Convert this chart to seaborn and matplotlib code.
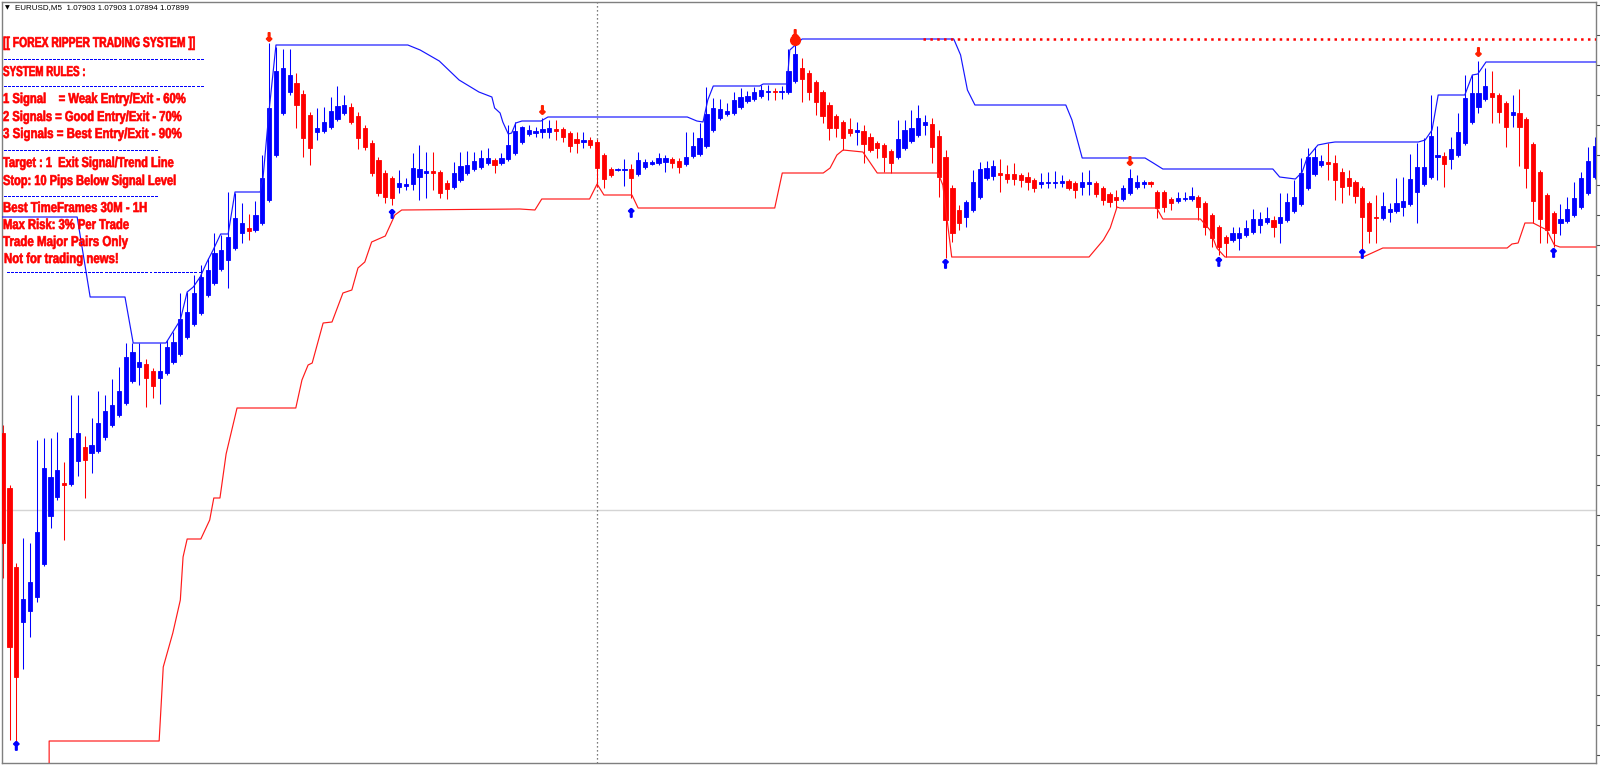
import numpy as np
import pandas as pd
import seaborn as sns
import matplotlib
matplotlib.use("Agg")
import matplotlib.pyplot as plt
import matplotlib.patheffects as pe
from matplotlib.transforms import Affine2D

# EURUSD M5 candles, prices kept in points (0.00001) above 1.07000
BASE = 1.07
POINT = 0.00001

open_pts = [602, 547, 468, 413, 424, 438, 471, 519, 538, 552,
            551, 574, 588, 582, 584, 598, 610, 620, 632, 654,
            668, 671, 664, 657, 662, 673, 681, 698, 711, 722,
            740, 752, 766, 775, 787, 802, 807, 805, 812, 835,
            880, 922, 943, 952, 941, 920, 903, 904, 908, 916,
            922, 928, 919, 907, 892, 875, 862, 857, 848, 849,
            851, 858, 862, 864, 863, 852, 848, 855, 862, 866,
            868, 872, 875, 872, 876, 882, 893, 901, 902, 903,
            903, 906, 906, 902, 896, 893, 895, 893, 880, 866,
            865, 865, 866, 861, 868, 871, 872, 873, 876, 874,
            871, 879, 881, 889, 905, 917, 921, 922, 928, 934,
            936, 939, 943, 944, 943, 943, 954, 967, 962, 953,
            943, 930, 919, 913, 906, 903, 904, 898, 892, 890,
            884, 878, 887, 894, 900, 910, 911, 899, 878, 847,
            825, 818, 825, 838, 857, 859, 862, 861, 861, 860,
            858, 855, 851, 852, 852, 852, 854, 852, 848, 851,
            852, 847, 841, 838, 836, 842, 848, 851, 853, 843,
            843, 836, 834, 836, 836, 838, 832, 820, 808, 798,
            795, 797, 800, 803, 810, 813, 815, 812, 815, 824,
            831, 847, 861, 870, 873, 872, 863, 857, 853, 847,
            832, 818, 817, 823, 824, 828, 831, 843, 851, 858,
            878, 879, 876, 880, 892, 913, 928, 936, 942, 940,
            932, 920, 922, 916, 891, 863, 840, 822, 812, 814,
            820, 828, 842, 858]
high_pts = [610, 550, 472, 497, 492, 595, 597, 597, 603, 573,
            640, 640, 599, 617, 644, 640, 656, 668, 692, 692,
            692, 676, 667, 692, 695, 703, 742, 743, 760, 770,
            777, 802, 800, 843, 842, 832, 821, 834, 880, 992,
            988, 986, 986, 962, 945, 923, 927, 928, 938, 949,
            940, 932, 923, 910, 895, 878, 865, 859, 865, 857,
            882, 890, 883, 883, 865, 855, 873, 883, 884, 883,
            885, 887, 877, 882, 910, 913, 909, 910, 908, 917,
            915, 915, 908, 904, 903, 903, 898, 896, 882, 868,
            867, 876, 871, 883, 876, 875, 882, 880, 878, 877,
            903, 903, 912, 948, 937, 936, 932, 943, 947, 944,
            948, 950, 950, 947, 949, 986, 992, 977, 965, 955,
            945, 933, 921, 915, 917, 913, 910, 902, 894, 892,
            886, 915, 915, 925, 930, 920, 917, 905, 885, 850,
            830, 835, 865, 873, 874, 875, 876, 870, 872, 862,
            863, 857, 862, 863, 864, 860, 856, 854, 863, 865,
            854, 849, 843, 845, 850, 866, 860, 855, 854, 845,
            845, 838, 843, 843, 848, 840, 834, 822, 810, 800,
            808, 808, 815, 826, 823, 828, 819, 842, 842, 855,
            877, 887, 888, 880, 892, 880, 867, 865, 855, 849,
            834, 840, 843, 832, 857, 858, 881, 892, 897, 940,
            909, 883, 898, 922, 960, 960, 974, 967, 964, 942,
            934, 940, 946, 918, 893, 865, 842, 824, 831, 838,
            853, 863, 888, 898]
low_pts = [457, 295, 293, 366, 398, 433, 469, 507, 535, 495,
           549, 559, 537, 562, 582, 595, 608, 618, 630, 652,
           650, 628, 637, 631, 660, 671, 679, 696, 709, 720,
           738, 750, 764, 747, 785, 792, 795, 803, 810, 833,
           878, 920, 940, 907, 878, 870, 895, 902, 906, 914,
           920, 911, 886, 885, 859, 839, 832, 830, 842, 845,
           845, 835, 837, 845, 837, 836, 846, 853, 860, 864,
           866, 870, 862, 870, 874, 880, 891, 899, 898, 897,
           897, 895, 893, 883, 882, 887, 887, 848, 847, 858,
           864, 849, 837, 859, 866, 870, 870, 863, 867, 862,
           869, 877, 879, 887, 903, 915, 919, 920, 926, 932,
           934, 937, 935, 935, 936, 941, 952, 933, 935, 920,
           912, 895, 898, 885, 899, 890, 872, 883, 877, 863,
           862, 876, 885, 892, 898, 900, 872, 838, 777, 793,
           805, 808, 823, 836, 855, 855, 843, 852, 850, 848,
           845, 843, 847, 847, 847, 848, 845, 837, 840, 840,
           838, 830, 828, 827, 834, 840, 846, 847, 848, 817,
           823, 825, 832, 834, 834, 815, 800, 788, 780, 778,
           793, 785, 798, 801, 802, 811, 798, 792, 813, 822,
           829, 845, 859, 868, 855, 835, 832, 840, 832, 782,
           792, 792, 815, 813, 822, 819, 829, 812, 849, 856,
           855, 848, 866, 878, 890, 911, 922, 934, 912, 912,
           888, 908, 869, 847, 812, 792, 792, 788, 800, 812,
           818, 826, 840, 856]
close_pts = [492, 388, 358, 436, 453, 503, 567, 558, 565, 550,
             597, 602, 575, 590, 612, 624, 630, 644, 678, 683,
             673, 657, 649, 664, 688, 693, 716, 723, 742, 758,
             765, 782, 785, 798, 817, 812, 804, 820, 857, 927,
             964, 967, 960, 930, 897, 887, 907, 913, 924, 929,
             930, 913, 897, 888, 862, 842, 838, 837, 852, 851,
             867, 866, 864, 862, 842, 846, 862, 869, 870, 874,
             877, 877, 870, 877, 890, 904, 908, 905, 904, 906,
             907, 904, 898, 889, 892, 895, 890, 867, 856, 860,
             866, 866, 857, 875, 873, 873, 877, 877, 872, 868,
             878, 889, 897, 921, 927, 926, 924, 935, 938, 939,
             943, 945, 944, 943, 944, 964, 981, 956, 943, 933,
             919, 907, 907, 897, 902, 905, 891, 885, 887, 878,
             872, 896, 905, 907, 917, 913, 888, 858, 815, 802,
             812, 833, 853, 866, 867, 869, 860, 856, 856, 855,
             853, 847, 853, 853, 853, 854, 847, 845, 853, 853,
             841, 835, 833, 835, 847, 857, 853, 853, 851, 827,
             828, 832, 837, 837, 839, 828, 808, 797, 788, 792,
             802, 802, 807, 816, 816, 817, 808, 818, 833, 838,
             862, 878, 878, 874, 871, 855, 848, 849, 839, 818,
             804, 817, 829, 826, 832, 834, 856, 868, 868, 899,
             880, 871, 886, 903, 937, 942, 942, 949, 938, 923,
             908, 923, 908, 867, 834, 816, 805, 802, 816, 826,
             837, 857, 874, 889]

# upper (blue) and lower (red) trailing lines: bar index -> points
blue_idx = [-0.4, 10.9, 12.8, 17.9, 19.1, 23.9, 24.9, 26.0, 27.0, 27.9,
            28.9, 29.9, 30.8, 31.9, 33.0, 34.0, 37.7, 38.1, 39.0, 40.0,
            59.3, 61.1, 63.9, 66.8, 69.7, 71.6, 72.0, 72.8, 73.2, 74.0,
            74.5, 75.1, 76.0, 78.8, 79.8, 100.2, 101.6, 102.5, 103.2, 104.0,
            110.8, 111.3, 114.8, 115.2, 117.0, 139.2, 140.2, 141.2, 142.3, 155.6,
            156.5, 158.0, 167.2, 168.4, 169.8, 185.9, 186.9, 189.2, 190.2, 190.9,
            192.5, 194.0, 195.0, 207.2, 208.2, 209.2, 210.1, 214.0, 215.1, 215.9,
            217.1, 233.8]
blue_pts = [818, 818, 738, 738, 692, 692, 703, 715, 743, 748,
            758, 773, 785, 801, 801, 843, 843, 857, 925, 990,
            990, 985, 974, 955, 943, 938, 927, 922, 913, 901,
            902, 912, 914, 914, 918, 918, 914, 913, 935, 949,
            949, 951, 951, 985, 996, 996, 980, 945, 930, 930,
            915, 877, 877, 872, 866, 866, 858, 856, 863, 877,
            890, 892, 893, 893, 895, 905, 940, 940, 960, 961,
            973, 973]
red_idx = [6.8, 6.8, 22.9, 23.5, 24.9, 26.0, 26.4, 27.0, 29.0, 30.3,
           30.9, 31.8, 32.7, 34.3, 42.9, 43.8, 44.7, 45.3, 46.9, 48.2,
           49.8, 51.1, 52.0, 53.0, 54.0, 56.0, 57.4, 58.4, 75.7, 77.9,
           78.9, 85.9, 87.0, 88.0, 92.1, 93.0, 113.0, 114.1, 120.1, 121.1,
           122.1, 123.0, 125.9, 128.0, 136.9, 137.6, 138.9, 159.0, 161.1, 162.1,
           163.1, 163.5, 168.9, 169.8, 175.3, 176.7, 177.7, 178.9, 199.1, 200.4,
           202.0, 220.2, 220.9, 221.8, 222.8, 224.0, 226.0, 227.1, 227.9, 233.8]
red_pts = [250, 294, 294, 368, 402, 435, 478, 496, 496, 515,
           537, 537, 581, 627, 627, 655, 670, 672, 712, 713,
           742, 745, 767, 773, 793, 799, 820, 825, 826, 825,
           836, 836, 851, 840, 840, 827, 827, 862, 862, 867,
           880, 885, 883, 862, 862, 850, 778, 778, 795, 807,
           828, 827, 827, 816, 816, 805, 787, 778, 778, 782,
           787, 787, 791, 792, 812, 812, 805, 790, 788, 788]

# signal arrows
sell_bars = [39, 79, 165, 216]
sell_pts = [997, 924, 873, 982]
buy_bars = [2, 57, 92, 138, 178, 199, 227]
buy_pts = [288, 820, 821, 770, 772, 780, 781]
strong_bar = 116
strong_pt = 997

level_pt = 996      # red dotted level
level_from = 134.7
hline_pt = 525
vline_bar = 87

header = "EURUSD,M5  1.07903 1.07903 1.07894 1.07899"
# text, y of line centre (px from top), colour, width on the chart (px)
rules = [
    ("[[ FOREX RIPPER TRADING SYSTEM ]]", 44, "red", 190),
    ("-" * 49, 60, "blue", 196),
    ("SYSTEM RULES :", 73, "red", 82),
    ("-" * 49, 87, "blue", 196),
    ("1 Signal    = Weak Entry/Exit - 60%", 100, "red", 182),
    ("2 Signals = Good Entry/Exit - 70%", 118, "red", 178),
    ("3 Signals = Best Entry/Exit - 90%", 135, "red", 178),
    ("-" * 38, 151, "blue", 152),
    ("Target : 1  Exit Signal/Trend Line", 164, "red", 170),
    ("Stop: 10 Pips Below Signal Level", 182, "red", 173),
    ("-" * 38, 197, "blue", 152),
    ("Best TimeFrames 30M - 1H", 209, "red", 143),
    ("Max Risk: 3% Per Trade", 226, "red", 125),
    ("Trade Major Pairs Only", 243, "red", 124),
    ("Not for trading news!", 260, "red", 114),
    ("-" * 48, 273, "blue", 191),
]
rule_x = [3, 3, 3, 3, 3, 3, 3, 3, 3, 3, 3, 3, 3, 3, 4, 6]


class Squeeze(pe.AbstractPathEffect):
    """Scale glyphs about the text origin (MT4 labels use a narrow bold face)."""

    def __init__(self, sx, sy=1.0, stroke=0.0):
        super().__init__()
        self.sx, self.sy, self.stroke = sx, sy, stroke

    def draw_path(self, renderer, gc, tpath, affine, rgbFace=None):
        ox, oy = affine.transform((0, 0))
        sq = Affine2D().translate(-ox, -oy).scale(self.sx, self.sy).translate(ox, oy)
        gc0 = renderer.new_gc()
        gc0.copy_properties(gc)
        if self.stroke > 0 and rgbFace is not None:
            gc0.set_linewidth(self.stroke)
            gc0.set_foreground(rgbFace)
        renderer.draw_path(gc0, tpath, affine + sq, rgbFace)
        gc0.restore()


def price(p):
    return BASE + np.asarray(p, dtype=float) * POINT


df = pd.DataFrame({"open": price(open_pts), "high": price(high_pts),
                   "low": price(low_pts), "close": price(close_pts)})
df["bar"] = np.arange(len(df))
colors = np.where(df["close"] >= df["open"], "#0000FF", "#FF0000")

sns.set_style("white")
plt.rcParams["font.family"] = ["Liberation Sans", "DejaVu Sans"]

W, H = 1600, 767
fig = plt.figure(figsize=(W / 100, H / 100), dpi=100)
ax = fig.add_axes([2 / W, 4 / H, 1594 / W, 761 / H])

ax.axhline(price(hline_pt), color="#d4d4d4", lw=1, zorder=0.5)
ax.axvline(vline_bar, color="#505050", lw=0.9, ls=(0, (1, 2.2)), zorder=0.6)

ax.vlines(df["bar"], df["low"], df["high"], colors=colors, lw=0.75, zorder=2)
ax.bar(df["bar"], (df["close"] - df["open"]).abs(),
       bottom=df[["open", "close"]].min(axis=1), width=0.62,
       color=colors, edgecolor=colors, linewidth=0.6, zorder=3)

sns.lineplot(x=blue_idx, y=price(blue_pts), ax=ax, color="#1515ff", lw=0.85,
             estimator=None, sort=False, zorder=4)
sns.lineplot(x=red_idx, y=price(red_pts), ax=ax, color="#ff1a1a", lw=0.85,
             estimator=None, sort=False, zorder=4)

ax.hlines(price(level_pt), level_from, 234, colors="#ff0000", lw=1.8,
          linestyles=[(0, (1, 1.74))], zorder=4)

arrow_fx = lambda c: [pe.withStroke(linewidth=1.3, foreground=c)]
for b, p in zip(sell_bars, sell_pts):
    ax.text(b, price(p), "\u2193", color="#ff2000", fontsize=8, fontweight="bold",
            ha="center", va="center", family="DejaVu Sans", zorder=6,
            path_effects=arrow_fx("#ff2000"))
for b, p in zip(buy_bars, buy_pts):
    ax.text(b, price(p), "\u2191", color="#0000ff", fontsize=8, fontweight="bold",
            ha="center", va="center", family="DejaVu Sans", zorder=6,
            path_effects=arrow_fx("#0000ff"))
ax.plot(strong_bar, price(strong_pt - 2), "o", color="#ff1a00", ms=7, zorder=6)
ax.text(strong_bar, price(strong_pt + 3), "\u2193", color="#ff1a00", fontsize=8,
        fontweight="bold", ha="center", va="center", family="DejaVu Sans", zorder=7,
        path_effects=arrow_fx("#ff1a00"))

ax.set_xlim(-0.1, 233.2)
ax.set_ylim(price(272), price(1033))
ax.set_xticks(np.arange(0, 234, 8))
ax.set_yticks(price(np.arange(280, 1031, 30)))
ax.yaxis.tick_right()
ax.tick_params(axis="both", direction="out", length=3, width=0.8,
               colors="#505050", labelbottom=False, labelright=False,
               labelleft=False)
ax.set_xlabel("")
ax.set_ylabel("")
for s in ax.spines.values():
    s.set_color("#7f7f7f")
    s.set_linewidth(1.0)

fig.text(7 / W, 1 - 8 / H, "\u25bc", fontsize=4.5, color="black",
         ha="center", va="center", family="DejaVu Sans")
fig.text(15 / W, 1 - 8 / H, header, fontsize=5.8, color="black",
         ha="left", va="center")

LABEL_SIZE = 8.6     # laid-out size; glyphs are drawn 10.3 pt tall
labels = []
for (txt, y, col, width), x in zip(rules, rule_x):
    t = fig.text(x / W, 1 - y / H, txt, fontsize=LABEL_SIZE, color=col,
                 fontweight="normal" if col == "blue" else "bold",
                 ha="left", va="center", family="Liberation Sans", zorder=10)
    labels.append((t, width, col))

# squeeze each label to the width it has on the MT4 chart
fig.canvas.draw()
for t, width, col in labels:
    sx = width / t.get_window_extent().width
    t.set_path_effects([Squeeze(sx, 10.3 / LABEL_SIZE,
                                0.45 if col == "red" else 0.0)])

fig.savefig("out.png", dpi=100, facecolor="white")
